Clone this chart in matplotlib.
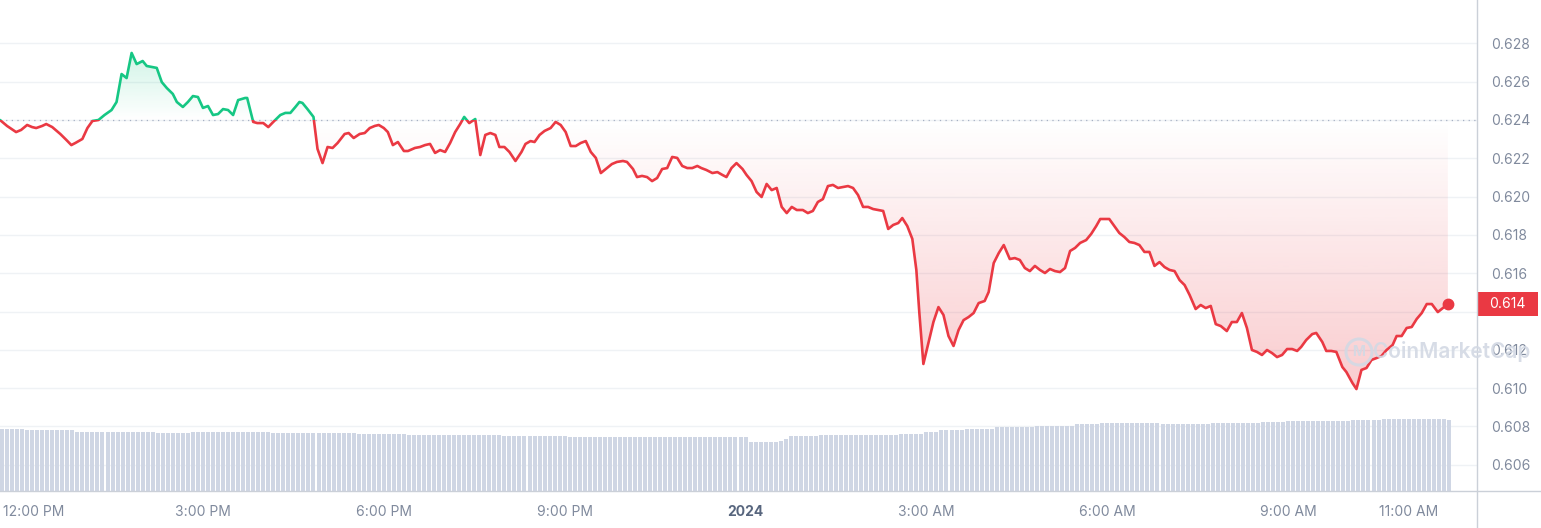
import matplotlib
matplotlib.use("Agg")
import matplotlib.pyplot as plt
import matplotlib.transforms as mtransforms
from matplotlib.colors import to_rgb
from matplotlib.lines import Line2D
from matplotlib.patches import Rectangle, Ellipse
from matplotlib.path import Path
import numpy as np

plt.rcParams['font.family'] = ['Inter', 'DejaVu Sans']

# 24h price chart, minutes counted from 31 Dec 2023 11:38 AM
start_min = 11 * 60 + 38
open_price = 0.624

minutes = [
    0, 7, 16, 21, 27, 32, 36, 42, 46, 52, 60, 66, 71, 75, 82, 87, 92, 98,
    104, 111, 116, 121, 126, 131, 136, 142, 146, 151, 156, 161, 166, 172, 176, 182,
    187, 192, 197, 202, 207, 212, 217, 222, 227, 232, 237, 244,
    246, 252, 256, 262, 267, 272, 279, 284, 289, 294, 298,
    301, 306, 312, 316, 321, 326, 331, 336, 343, 347, 352, 358, 363, 368, 373, 377,
    382, 386, 391, 396, 402, 406, 413, 418, 423, 428, 433, 438, 443, 448, 453, 458,
    462, 467, 473, 478, 483, 488,
    493, 497, 502, 507, 513, 519, 523, 528, 532, 537, 542, 548, 553, 558, 563, 568,
    573, 578, 583, 588, 593, 598, 604, 609, 614, 620, 624, 630, 634, 639, 644, 649,
    654, 659, 664, 669, 674, 679, 684, 689, 694,
    698, 703, 709, 714, 719, 723, 728, 733, 739,
    743, 748, 753, 758, 763, 768, 773, 778, 783, 788, 793,
    799, 804, 809, 814, 819, 824, 829, 834, 839, 844, 849, 854, 859, 864, 869, 874,
    879, 884, 889, 894,
    898, 903, 908, 912, 915, 919, 924, 929, 934, 939, 944, 949, 954, 959, 964, 969, 974,
    980, 984, 989, 994, 999, 1005, 1010, 1015, 1020, 1025, 1030, 1035, 1040, 1045,
    1050, 1055, 1060, 1065, 1070, 1075, 1081, 1086, 1091,
    1095, 1100, 1104, 1109, 1114, 1119, 1124, 1129, 1134, 1139, 1144, 1149, 1154,
    1159, 1164, 1169, 1174, 1179, 1184, 1190, 1195, 1200, 1205, 1210, 1215, 1221,
    1226, 1231, 1236, 1241, 1246, 1251, 1256, 1261, 1266, 1271, 1276, 1281, 1286, 1291,
    1295, 1300, 1306, 1310, 1316, 1320, 1325, 1330, 1336, 1340, 1346, 1350, 1355,
    1360, 1365, 1370, 1375, 1380, 1386, 1390, 1395, 1400, 1405, 1410, 1415, 1420,
    1425, 1431, 1436, 1441,
]

prices = [
    0.62400, 0.62369, 0.62337, 0.62348, 0.62374, 0.62363, 0.62358, 0.62369, 0.62379,
    0.62363, 0.62327, 0.62296, 0.62269, 0.62280, 0.62301, 0.62358, 0.62395, 0.62400,
    0.62426, 0.62452, 0.62494, 0.62640, 0.62619, 0.62750, 0.62692, 0.62708, 0.62682,
    0.62677, 0.62672, 0.62598, 0.62567, 0.62536, 0.62494, 0.62468, 0.62494, 0.62525,
    0.62520, 0.62463, 0.62473, 0.62426, 0.62431, 0.62457, 0.62452, 0.62426, 0.62504,
    0.62515,
    0.62515, 0.62390, 0.62384, 0.62384, 0.62363, 0.62390, 0.62426, 0.62437, 0.62437,
    0.62468, 0.62494,
    0.62489, 0.62457, 0.62416, 0.62249, 0.62175, 0.62259, 0.62254, 0.62280, 0.62327,
    0.62332, 0.62306, 0.62327, 0.62332, 0.62358, 0.62369, 0.62374, 0.62358, 0.62337,
    0.62269, 0.62285, 0.62238, 0.62238, 0.62254, 0.62259, 0.62269, 0.62275, 0.62228,
    0.62243, 0.62233, 0.62280, 0.62337, 0.62379, 0.62416, 0.62384, 0.62405, 0.62217,
    0.62322, 0.62332,
    0.62322,
    0.62259, 0.62259, 0.62233, 0.62186, 0.62233, 0.62275, 0.62290, 0.62285, 0.62322,
    0.62343, 0.62358, 0.62390, 0.62374, 0.62337, 0.62264, 0.62264, 0.62280, 0.62290,
    0.62233, 0.62202, 0.62123, 0.62149, 0.62170, 0.62181, 0.62186, 0.62181, 0.62144,
    0.62102, 0.62108, 0.62102, 0.62081, 0.62097, 0.62144, 0.62149, 0.62207, 0.62202,
    0.62160, 0.62149, 0.62149, 0.62160,
    0.62149, 0.62139, 0.62123, 0.62128, 0.62113, 0.62102, 0.62149, 0.62175, 0.62144,
    0.62113, 0.62081, 0.62024, 0.61998, 0.62066, 0.62034, 0.62045, 0.61946, 0.61914,
    0.61946, 0.61930,
    0.61930, 0.61914, 0.61925, 0.61972, 0.61987, 0.62055, 0.62061, 0.62045, 0.62050,
    0.62055, 0.62045, 0.62008, 0.61946, 0.61946, 0.61935, 0.61930, 0.61925, 0.61831,
    0.61852, 0.61862,
    0.61888, 0.61846, 0.61779, 0.61617, 0.61392, 0.61126, 0.61235, 0.61345, 0.61423,
    0.61382, 0.61272, 0.61220, 0.61303, 0.61355, 0.61371, 0.61392, 0.61444,
    0.61455, 0.61502, 0.61653, 0.61705, 0.61747, 0.61674, 0.61679, 0.61669, 0.61627,
    0.61611, 0.61638, 0.61617, 0.61601, 0.61622, 0.61611, 0.61606, 0.61627, 0.61716,
    0.61732, 0.61758, 0.61773, 0.61805, 0.61846,
    0.61883, 0.61883, 0.61883, 0.61846, 0.61810, 0.61789, 0.61763, 0.61758, 0.61747,
    0.61711, 0.61711, 0.61638, 0.61658, 0.61632, 0.61617, 0.61611, 0.61564, 0.61538,
    0.61486, 0.61413, 0.61434, 0.61418, 0.61429, 0.61334, 0.61324, 0.61298,
    0.61345, 0.61345, 0.61392, 0.61314, 0.61199, 0.61189, 0.61173, 0.61199, 0.61183,
    0.61162, 0.61173, 0.61204, 0.61204, 0.61194,
    0.61215, 0.61251, 0.61282, 0.61288, 0.61241, 0.61194, 0.61194, 0.61189, 0.61110,
    0.61084, 0.61027, 0.60995, 0.61095, 0.61105, 0.61147, 0.61157, 0.61168, 0.61199,
    0.61225, 0.61272, 0.61272, 0.61314, 0.61319, 0.61361, 0.61392, 0.61439, 0.61439,
    0.61397, 0.61418, 0.61439,
]

# rolling 24h volume (M USD), one bar every 5 minutes
vol_m = ([310] * 5 + [305] * 10 + [295] * 16 + [290] * 7 + [295] * 16 + [290] * 17
         + [285] * 10 + [280] * 19 + [275] * 13 + [270] * 36 + [245] * 6 + [250, 260]
         + [275] * 6 + [280] * 16 + [285] * 5 + [295] * 3 + [305] * 5 + [310] * 6
         + [320] * 8 + [325] * 8 + [335] * 5 + [340] * 12 + [335] * 10 + [340] * 10
         + [345] * 5 + [350] * 13 + [355] * 6 + [360] * 13 + [355])

tick_hours = [12, 15, 18, 21, 24, 27, 30, 33, 35]
tick_labels = ["12:00 PM", "3:00 PM", "6:00 PM", "9:00 PM", "2024",
               "3:00 AM", "6:00 AM", "9:00 AM", "11:00 AM"]
price_ticks = [0.606, 0.608, 0.610, 0.612, 0.614, 0.616, 0.618, 0.620,
               0.622, 0.624, 0.626, 0.628]

RED = "#ea3943"
GREEN = "#16c784"
GREY = "#808a9d"
GRID = "#eff2f5"
VOL = "#cfd6e4"
AXLINE = "#cbd0d8"

t = np.array(minutes, dtype=float)
p = np.array(prices)
last = p[-1]

fig = plt.figure(figsize=(15.41, 5.28), dpi=100)
ax = fig.add_axes([0, 37 / 528, 1477 / 1541, 491 / 528])
axv = ax.twinx()
ax.set_zorder(0)
axv.set_zorder(1)
axv.patch.set_visible(False)

# volume bars
axv.bar(np.arange(len(vol_m)) * 5, vol_m, width=4, align="edge",
        color=VOL, linewidth=0)
axv.set_ylim(0, 2455)
axv.set_yticks([])
for s in axv.spines.values():
    s.set_visible(False)


def gradient_fill(mask, color, y_far, a_far):
    poly = ax.fill_between(t, p, open_price, where=mask, interpolate=True,
                           facecolor="none", edgecolor="none")
    path = Path.make_compound_path(*poly.get_paths())
    img = np.zeros((200, 1, 4))
    img[..., :3] = to_rgb(color)
    if y_far > open_price:
        img[:, 0, 3] = np.linspace(a_far, 0, 200)
    else:
        img[:, 0, 3] = np.linspace(0, a_far, 200)
    lo, hi = sorted([y_far, open_price])
    im = ax.imshow(img, extent=[t[0], t[-1], lo, hi], aspect="auto",
                   origin="upper", zorder=1, interpolation="bilinear")
    im.set_clip_path(path, ax.transData)


gradient_fill(p >= open_price, GREEN, p.max(), 0.2)
gradient_fill(p <= open_price, RED, 0.6095, 0.27)

# baseline (opening price)
ax.axhline(open_price, color="#a6b0c3", lw=0.9, ls=(0, (1, 3.5)), zorder=2)

# price line, green above the open and red below
for col, lo, hi in [(GREEN, open_price, 0.64), (RED, 0.60, open_price)]:
    ln, = ax.plot(t, p, color=col, lw=1.9, solid_joinstyle="round",
                  solid_capstyle="round", zorder=3)
    ln.set_clip_path(Rectangle((-50, lo), 1600, hi - lo, transform=ax.transData))
ax.plot(t[-1], last, "o", color=RED, ms=7.5, zorder=4)

ax.set_xlim(0, 1470)
ax.set_ylim(0.604627, 0.630266)

# axes styling
for s in ax.spines.values():
    s.set_visible(False)
ax.yaxis.tick_right()
ax.set_yticks(price_ticks, ["" if abs(v - 0.614) < 1e-9 else f"{v:.3f}" for v in price_ticks])
ax.grid(axis="y", color=GRID, lw=1)
ax.set_axisbelow(True)
ax.tick_params(axis="y", length=0, pad=10, labelsize=10, labelcolor=GREY)

ax.set_xticks([h * 60 - start_min for h in tick_hours], tick_labels)
ax.tick_params(axis="x", length=0, pad=10, labelsize=10, labelcolor=GREY)
xl = ax.get_xticklabels()
xl[0].set_transform(xl[0].get_transform()
                    + mtransforms.ScaledTranslation(0.12, 0, fig.dpi_scale_trans))
xl[4].set_fontweight("bold")
xl[4].set_color("#58667e")

# frame lines extending to the figure edge
fig.add_artist(Line2D([1477 / 1541] * 2, [0, 1], color=AXLINE, lw=1,
                      transform=fig.transFigure))
fig.add_artist(Line2D([0, 1], [37 / 528] * 2, color=AXLINE, lw=1,
                      transform=fig.transFigure))

# last price tag
blend = mtransforms.blended_transform_factory(ax.transAxes, ax.transData)
ax.add_patch(Rectangle((1.0, last - 0.000625), 61 / 1477, 0.00125, transform=blend,
                       facecolor=RED, edgecolor="none", clip_on=False, zorder=5))
ax.text(1.0 + 30 / 1477, last, f"{last:.3f}", transform=blend, ha="center",
        va="center", color="white", fontsize=10, clip_on=False, zorder=6)

# watermark
wm_y = 1 - 352 / 528
fig.add_artist(Ellipse((1359 / 1541, wm_y), 26 / 1541, 26 / 528, transform=fig.transFigure,
                       facecolor="none", edgecolor="#d3d9e4", lw=2.2, alpha=0.9))
fig.text(1359 / 1541, wm_y, "M", color="#d3d9e4", fontsize=10, fontweight="bold",
         ha="center", va="center", alpha=0.9)
fig.text(1373 / 1541, wm_y, "CoinMarketCap", color="#d3d9e4", fontsize=15,
         fontweight="semibold", ha="left", va="center", alpha=0.9)

fig.savefig("out.png", dpi=100)
